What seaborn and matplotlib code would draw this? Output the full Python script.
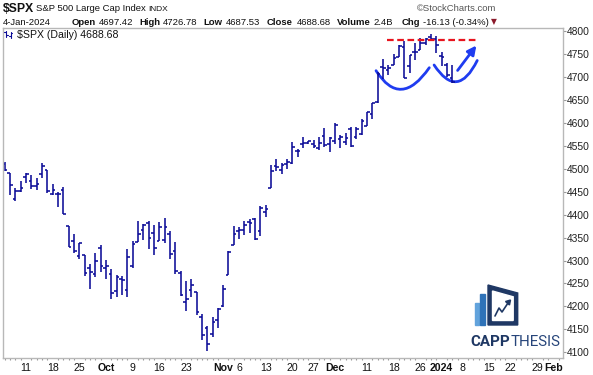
import numpy as np
import pandas as pd
import matplotlib.pyplot as plt
from matplotlib import font_manager
from matplotlib.patches import Polygon, Rectangle, FancyArrowPatch, PathPatch
from matplotlib.path import Path
from matplotlib.lines import Line2D
import seaborn as sns

# --- data: $SPX daily bars, 5-Sep-2023 .. 4-Jan-2024 ---
holidays = ["2023-11-23", "2023-12-25", "2024-01-01", "2024-01-15"]
calendar = [d for d in pd.bdate_range("2023-09-05", "2024-02-06")
            if d.strftime("%Y-%m-%d") not in holidays]

opens = [4510.06, 4490.35, 4434.55, 4451.30, 4480.98, 4473.27, 4462.65, 4487.78, 4497.98,
         4445.13, 4445.41, 4452.81, 4374.36, 4341.74, 4310.62, 4312.88, 4282.63, 4269.65,
         4328.18, 4284.52, 4269.75, 4233.83, 4259.31, 4234.79, 4289.02, 4339.75, 4366.59,
         4380.94, 4360.49, 4342.37, 4345.23, 4357.35, 4321.36, 4273.85, 4210.40, 4235.79,
         4232.42, 4175.99, 4152.93, 4139.39, 4171.33, 4201.27, 4268.26, 4334.23, 4364.27,
         4366.21, 4384.37, 4391.41, 4364.15, 4406.66, 4458.97, 4505.30, 4497.08, 4509.55,
         4511.70, 4538.77, 4553.04, 4555.84, 4554.86, 4545.55, 4571.84, 4554.87, 4559.43,
         4564.37, 4557.25, 4586.23, 4568.84, 4576.20, 4593.39, 4618.30, 4646.20, 4721.04,
         4714.23, 4725.58, 4743.72, 4764.73, 4724.29, 4753.92, 4758.86, 4773.45, 4786.44,
         4782.88, 4745.20, 4725.07, 4697.42]
highs = [4514.29, 4490.35, 4457.81, 4473.53, 4490.77, 4487.11, 4479.39, 4511.99, 4497.98,
         4466.36, 4449.85, 4461.03, 4375.70, 4357.40, 4338.51, 4313.01, 4292.07, 4317.27,
         4333.15, 4300.58, 4281.15, 4268.50, 4267.13, 4324.10, 4341.73, 4385.46, 4378.64,
         4385.85, 4377.10, 4383.33, 4393.57, 4364.20, 4339.54, 4276.56, 4255.84, 4259.38,
         4232.42, 4183.60, 4156.70, 4177.47, 4195.55, 4245.64, 4319.72, 4374.65, 4372.21,
         4386.26, 4391.20, 4393.40, 4418.03, 4421.76, 4508.67, 4521.17, 4511.99, 4520.12,
         4557.11, 4542.14, 4568.43, 4560.31, 4562.06, 4568.14, 4587.64, 4569.89, 4599.39,
         4574.06, 4578.56, 4590.74, 4590.92, 4609.23, 4623.71, 4643.93, 4709.69, 4738.57,
         4725.53, 4749.52, 4768.69, 4778.01, 4748.71, 4772.94, 4784.72, 4785.39, 4793.30,
         4788.43, 4754.33, 4729.29, 4726.78]
lows = [4496.01, 4442.38, 4430.46, 4448.38, 4467.89, 4456.83, 4453.52, 4478.69, 4447.21,
        4442.11, 4416.61, 4401.38, 4329.17, 4316.49, 4302.70, 4265.98, 4238.63, 4264.38,
        4274.86, 4260.21, 4216.45, 4220.48, 4225.91, 4219.55, 4283.79, 4339.64, 4345.34,
        4325.43, 4311.97, 4342.37, 4337.54, 4303.84, 4269.69, 4223.03, 4189.22, 4219.43,
        4181.42, 4127.90, 4103.78, 4132.94, 4153.12, 4197.74, 4268.26, 4334.23, 4347.53,
        4355.41, 4359.76, 4343.94, 4353.34, 4393.82, 4458.97, 4495.31, 4487.83, 4499.66,
        4510.36, 4525.51, 4545.05, 4552.80, 4545.51, 4540.51, 4547.15, 4537.24, 4554.71,
        4544.48, 4551.68, 4546.50, 4565.22, 4574.06, 4593.39, 4608.09, 4643.23, 4694.34,
        4704.69, 4725.58, 4743.72, 4697.82, 4708.35, 4736.77, 4758.45, 4768.90, 4780.98,
        4751.99, 4722.67, 4699.71, 4687.53]
closes = [4496.83, 4465.48, 4451.14, 4457.49, 4487.46, 4461.90, 4467.44, 4505.10, 4450.32,
          4453.53, 4443.95, 4402.20, 4330.00, 4320.06, 4337.44, 4273.53, 4274.51, 4299.70,
          4288.05, 4288.39, 4229.45, 4263.75, 4258.19, 4308.50, 4335.66, 4358.24, 4376.95,
          4349.61, 4327.78, 4373.63, 4373.20, 4314.60, 4278.00, 4224.16, 4217.04, 4247.68,
          4186.77, 4137.23, 4117.37, 4166.82, 4193.80, 4237.86, 4317.78, 4358.34, 4365.98,
          4378.38, 4382.78, 4347.35, 4415.24, 4411.55, 4495.70, 4502.88, 4508.24, 4514.02,
          4547.38, 4538.19, 4556.62, 4559.34, 4550.43, 4554.89, 4550.58, 4567.80, 4594.63,
          4569.78, 4567.18, 4549.34, 4585.59, 4604.37, 4622.44, 4643.70, 4707.09, 4719.55,
          4719.19, 4740.56, 4768.37, 4698.35, 4746.75, 4754.63, 4774.75, 4781.58, 4783.35,
          4769.83, 4742.83, 4704.81, 4688.68]

tick_dates = ["2023-09-11", "2023-09-18", "2023-09-25", "2023-10-02", "2023-10-09",
              "2023-10-16", "2023-10-23", "2023-11-01", "2023-11-06", "2023-11-13",
              "2023-11-20", "2023-11-27", "2023-12-01", "2023-12-11", "2023-12-18",
              "2023-12-26", "2024-01-02", "2024-01-08", "2024-01-16", "2024-01-22",
              "2024-01-29", "2024-02-01"]
tick_labels = ["11", "18", "25", "Oct", "9", "16", "23", "Nov", "6", "13", "20", "27",
               "Dec", "11", "18", "26", "2024", "8", "15", "22", "29", "Feb"]
bold_labels = ["Oct", "Nov", "Dec", "2024", "Feb"]

W, H = 593, 375
BAR = "#0c0c98"
DRAW = "#1f3cf0"
NAVY = "#1f3864"
TICK = 0.5


def fx(x):
    return x / W


def fy(y):
    return 1 - y / H


def has_font(name):
    try:
        font_manager.findfont(name, fallback_to_default=False)
        return True
    except Exception:
        return False


sns.set_theme(style="white")
plt.rcParams["font.family"] = ["Liberation Sans", "DejaVu Sans"]

fig = plt.figure(figsize=(W / 100, H / 100), dpi=100)
ax = fig.add_axes([3.3 / W, 1 - 358 / H, 560 / W, 330 / H])

# OHLC bars: high-low range, open tick on left, close tick on right
rows = []
for i in range(len(closes)):
    rows += [(f"r{i}", i, lows[i]), (f"r{i}", i, highs[i]),
             (f"o{i}", i - TICK, opens[i]), (f"o{i}", i, opens[i]),
             (f"c{i}", i, closes[i]), (f"c{i}", i + TICK, closes[i])]
segs = pd.DataFrame(rows, columns=["seg", "x", "price"])
sns.lineplot(data=segs, x="x", y="price", units="seg", estimator=None, sort=False,
             color=BAR, lw=1.15, solid_capstyle="butt", ax=ax)
ax.set_xlabel("")
ax.set_ylabel("")

pos = {d.strftime("%Y-%m-%d"): k for k, d in enumerate(calendar)}
ax.set_xticks([pos[d] for d in tick_dates])
ax.set_xticklabels(tick_labels)
for t in ax.get_xticklabels():
    if t.get_text() in bold_labels:
        t.set_fontweight("bold")
ax.set_xticks(range(len(calendar)), minor=True)
ax.tick_params(axis="x", which="major", length=0, pad=3.5, labelsize=7.6, labelcolor="#111")
ax.tick_params(axis="x", which="minor", bottom=True, length=1.5, width=0.8, color="#999")

ax.yaxis.tick_right()
ax.set_yticks(range(4100, 4801, 50))
ax.tick_params(axis="y", right=True, length=2.2, width=0.8, color="#999", pad=0.5,
               labelsize=7.4, labelcolor="#222")
ax.set_xlim(-0.28, 104.86)
ax.set_ylim(4087.6, 4806.5)
for s in ax.spines.values():
    s.set_color("#b8b8b8")
    s.set_linewidth(1.0)

# hand drawn annotations (data coordinates)
ax.plot([71.7, 88.4], [4780.4, 4780.4], color="#e8141e", lw=1.6, ls=(0, (3, 1.6)))
arcs = [[(69.7, 4713.5), (74.3, 4629.2), (79.7, 4720.0)],
        [(80.6, 4725.9), (85.0, 4648.3), (88.7, 4735.7)]]
for a in arcs:
    ax.add_patch(PathPatch(Path(a, [Path.MOVETO, Path.CURVE3, Path.CURVE3]),
                           fc="none", ec=DRAW, lw=2.0, capstyle="round"))
ax.add_patch(FancyArrowPatch((84.7, 4709.2), (88.85, 4773.2), arrowstyle="-|>",
                             mutation_scale=13, color=DRAW, lw=2.0))

# header
fig.text(fx(2.5), fy(11.5), "$SPX", fontsize=8.8, fontweight="bold", color="#111")
fig.text(fx(36), fy(11.3), "S&P 500 Large Cap Index", fontsize=6.8, color="#111")
fig.text(fx(148), fy(11.3), "INDX", fontsize=6.0, color="#111")
fig.text(fx(417), fy(11.3), "©StockCharts.com", fontsize=6.8, color="#555")
line2 = [(2.7, "4-Jan-2024", "normal"), (72, "Open", "bold"), (99, "4697.42", "normal"),
         (139, "High", "bold"), (163, "4726.78", "normal"), (203, "Low", "bold"),
         (226, "4687.53", "normal"), (267, "Close", "bold"), (297, "4688.68", "normal"),
         (337, "Volume", "bold"), (373, "2.4B", "normal"), (402, "Chg", "bold"),
         (423, "-16.13 (-0.34%)", "normal")]
for x, s, w in line2:
    fig.text(fx(x), fy(25), s, fontsize=6.8, fontweight=w, color="#111")
fig.text(fx(491), fy(24.5), "▼", fontsize=5.5, color="#8b1a2b", family="DejaVu Sans")

# legend line inside the plot
fig.text(fx(17), fy(37.5), "$SPX (Daily) 4688.68", fontsize=7.6, color="#111")
for x0, y0, y1, yo, yc in [(6, 30.5, 37, 32, 35), (10.5, 31.5, 38, 36, 33)]:
    fig.add_artist(Line2D([fx(x0), fx(x0)], [fy(y0), fy(y1)], color=BAR, lw=0.8))
    fig.add_artist(Line2D([fx(x0 - 1.8), fx(x0)], [fy(yo), fy(yo)], color=BAR, lw=0.8))
    fig.add_artist(Line2D([fx(x0), fx(x0 + 1.8)], [fy(yc), fy(yc)], color=BAR, lw=0.8))

# CAPPTHESIS logo
fig.add_artist(Rectangle((fx(475.3), fy(325)), 3.4 / W, 22.3 / H, color="#62a3dc",
                         transform=fig.transFigure))
fig.add_artist(Rectangle((fx(480), fy(325)), 5 / W, 31 / H, color="#2e72b8",
                         transform=fig.transFigure))
fig.add_artist(Polygon([(fx(488), fy(285)), (fx(517.7), fy(293)), (fx(517.7), fy(325)),
                        (fx(488), fy(325))], closed=True, color=NAVY,
                       transform=fig.transFigure))
fig.add_artist(Polygon([(fx(492.5), fy(291)), (fx(513.2), fy(296.8)), (fx(513.2), fy(320.5)),
                        (fx(492.5), fy(320.5))], closed=True, color="white",
                       transform=fig.transFigure))
fig.add_artist(Line2D([fx(495), fx(499), fx(502), fx(508)], [fy(316), fy(308), fy(312), fy(303)],
                      color=NAVY, lw=1.2))
fig.add_artist(Polygon([(fx(510.5), fy(300)), (fx(505.5), fy(301.5)), (fx(509.5), fy(305))],
                       closed=True, color=NAVY, transform=fig.transFigure))

logo_font = ["Liberation Sans Narrow"] if has_font("Liberation Sans Narrow") else ["Roboto"]
logo_font = logo_font + ["DejaVu Sans"]
t1 = fig.text(fx(470), fy(346), "CAPP", fontsize=12.5, fontweight="bold", color=NAVY,
              family=logo_font)
t2 = fig.text(fx(514.5), fy(346), "THESIS", fontsize=12.5, color="#27457a",
              family=logo_font)
fig.canvas.draw()
r = fig.canvas.get_renderer()
w1 = t1.get_window_extent(r).width
w2 = t2.get_window_extent(r).width
k = min(1.0, 90 / (w1 + w2))
t1.set_fontsize(12.5 * k)
t2.set_fontsize(12.5 * k)
t2.set_x(fx(470 + w1 * k + 0.5))

fig.savefig("out.png", dpi=100)
